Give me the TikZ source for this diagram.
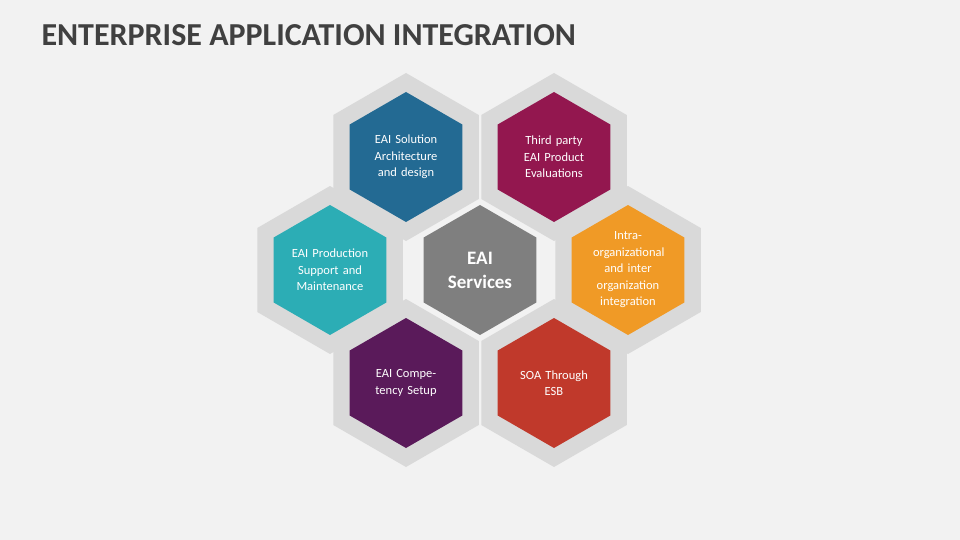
\documentclass[tikz,border=0pt]{standalone}
\usepackage{fontspec}
\setmainfont{Carlito}
\usetikzlibrary{shapes.geometric}
\definecolor{bg}{HTML}{F2F2F2}
\definecolor{ring}{HTML}{D9D9D9}
\definecolor{cA}{HTML}{236A93}
\definecolor{cB}{HTML}{93174F}
\definecolor{cC}{HTML}{2CADB5}
\definecolor{cD}{HTML}{7F7F7F}
\definecolor{cE}{HTML}{F09A26}
\definecolor{cF}{HTML}{5A1A5A}
\definecolor{cG}{HTML}{C0392B}
\tikzset{
 outerhex/.style={regular polygon,regular polygon sides=6,minimum size=168pt,inner sep=0pt,fill=ring,draw=none},
 innerhex/.style={regular polygon,regular polygon sides=6,minimum size=130pt,inner sep=0pt,draw=none,text=white,align=center,font=\fontsize{12.5}{16.5}\selectfont,text width=78pt},
}
\begin{document}
\begin{tikzpicture}[x=1pt,y=-1pt]
\fill[bg] (0,0) rectangle (960,540);
\useasboundingbox (0,0) rectangle (960,540);
\node[anchor=base west,font=\fontsize{32}{36}\selectfont\bfseries,text=black!75] (title) at (38,46) {ENTERPRISE APPLICATION INTEGRATION};
\foreach \n/\x/\y in {gA/406/157,gB/554/157,gC/330/270,gE/628/270,gF/406/383,gG/554/383}
  \node[outerhex,shape border rotate=30] (\n) at (\x,\y) {};
\node[innerhex,shape border rotate=30,fill=cA] (hA) at (406,157) {EAI Solution Architecture and design};
\node[innerhex,shape border rotate=30,fill=cB] (hB) at (554,157) {Third party EAI Product Evaluations};
\node[innerhex,shape border rotate=30,fill=cC] (hC) at (330,270) {EAI Production Support and Maintenance};
\node[innerhex,shape border rotate=30,fill=cD,font=\fontsize{19}{24}\selectfont\bfseries] (hD) at (480,270) {EAI\\Services};
\node[innerhex,shape border rotate=30,fill=cE,text width=70pt] (hE) at (628,270) {Intra-organizational and inter organization integration};
\node[innerhex,shape border rotate=30,fill=cF] (hF) at (406,383) {EAI Competency Setup};
\node[innerhex,shape border rotate=30,fill=cG] (hG) at (554,383) {SOA Through ESB};
\end{tikzpicture}
\end{document}
